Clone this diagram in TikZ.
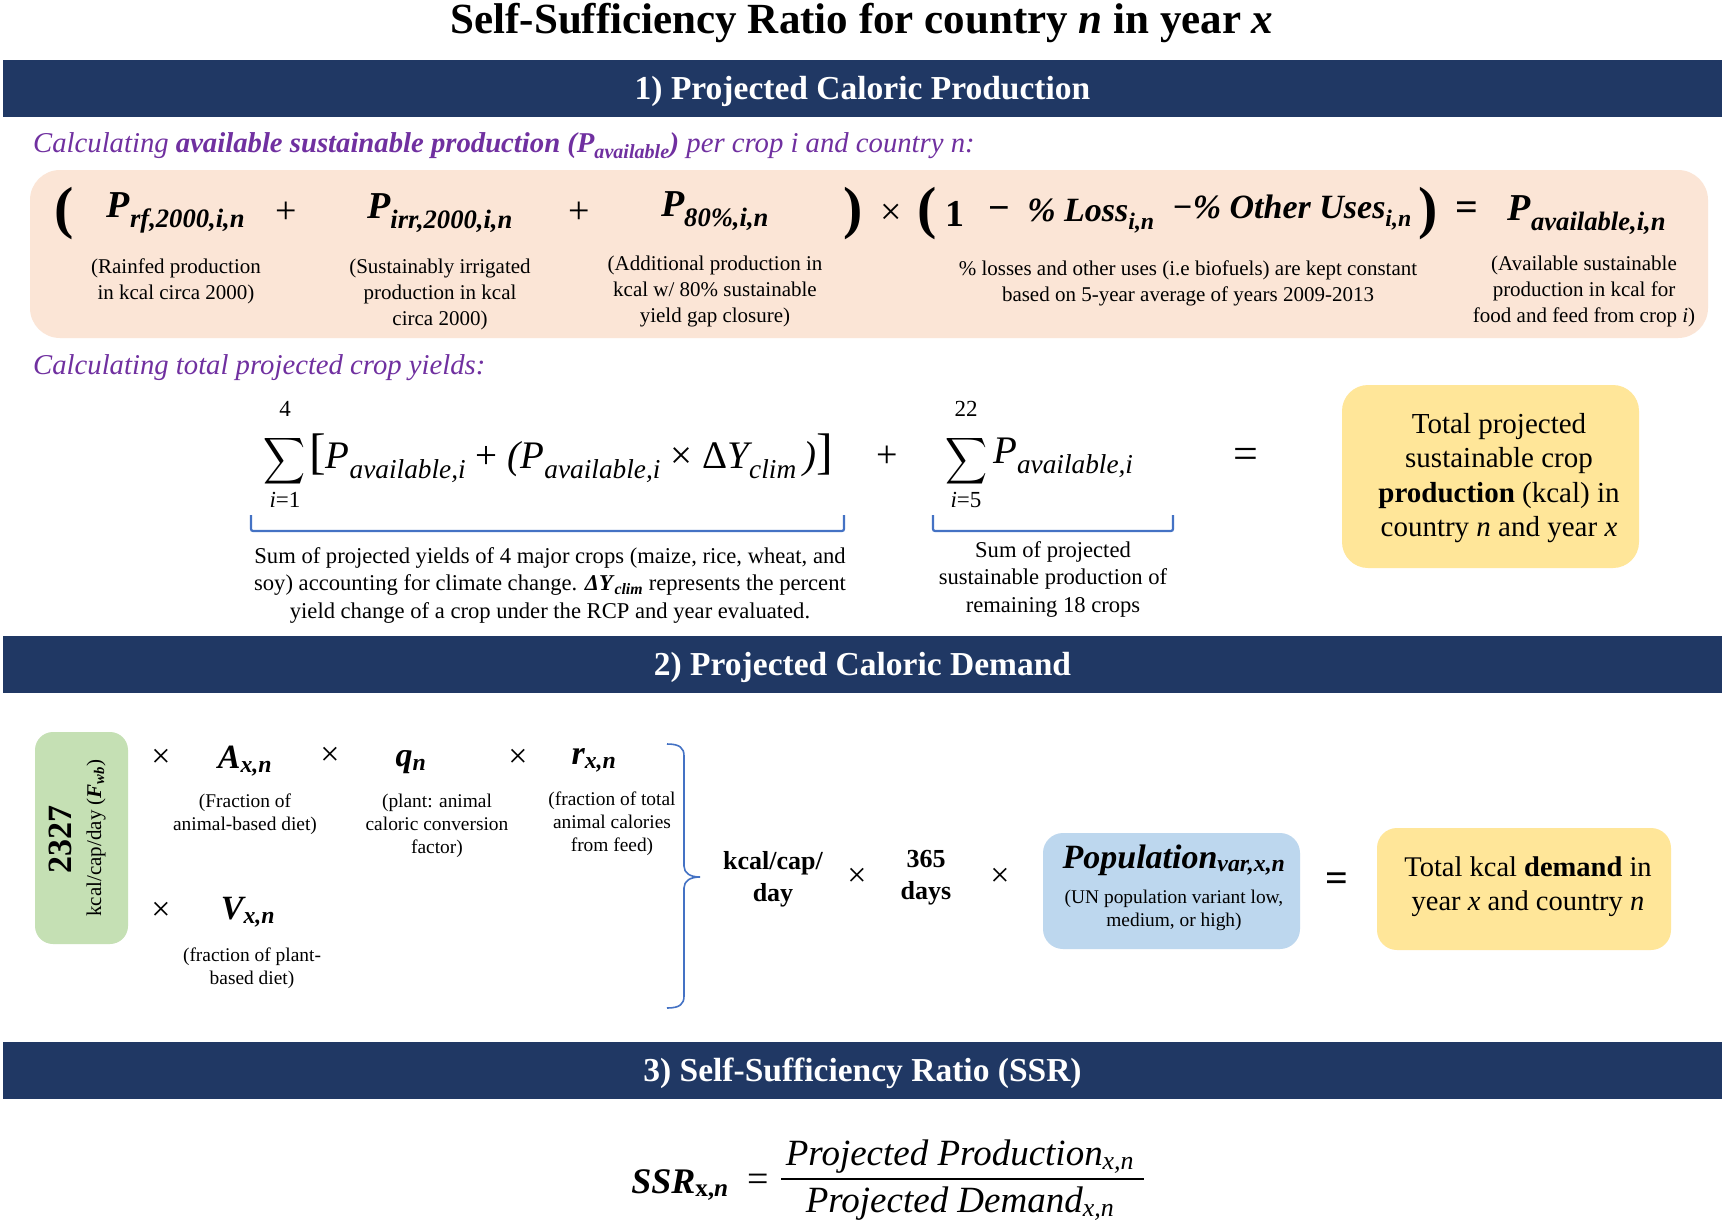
\documentclass[tikz,border=0pt]{standalone}
\usepackage{amsmath}
\usepackage{fontspec}
\setmainfont{Liberation Serif}
\definecolor{navy}{HTML}{203864}
\definecolor{pinkc}{HTML}{FBE5D6}
\definecolor{purplec}{HTML}{7030A0}
\definecolor{yellowc}{HTML}{FFE699}
\definecolor{greenc}{HTML}{C5E0B4}
\definecolor{bluebox}{HTML}{BDD7EE}
\definecolor{bracec}{HTML}{4472C4}
\newcommand\fsz[2]{\fontsize{#1}{#2}\selectfont}
\newcommand\bi{\bfseries\itshape}
\newcommand\bigsig{\resizebox*{42pt}{52pt}{$\displaystyle\sum$}}
\newcommand\sqb[1]{{\fsz{50}{50}\upshape #1}}
\begin{document}
\begin{tikzpicture}[x=1pt,y=-1pt,
  txt/.style={inner sep=0pt,align=center},
  desc/.style={txt,font=\fsz{21}{26}},
  tdesc/.style={txt,font=\fsz{22.6}{27.5}},
  sdesc/.style={txt,font=\fsz{19.4}{23}},
  banner/.style={fill=navy,draw=none,inner sep=0pt,minimum width=1719pt,minimum height=57pt,text=white,text height=22pt,text depth=0pt,font=\fsz{33.5}{38}\bfseries},
  calc/.style={txt,anchor=west,text=purplec,font=\fsz{28.7}{32}\itshape},
  bigvar/.style={txt,font=\fsz{38}{44}\bi},
  midvar/.style={txt,font=\fsz{34}{40}\bi},
  paren/.style={txt,font=\fsz{58}{60}\bfseries},
  op/.style={txt,font=\fsz{38}{40}},
  dvar/.style={txt,font=\fsz{34}{40}\bi},
  dop/.style={txt,font=\fsz{34}{36}},
  sumexp/.style={txt,font=\fsz{39}{42}\itshape},
  lim/.style={txt,font=\fsz{23}{26}},
  ubr/.style={draw=bracec,line width=2.2pt,rounded corners=2pt},
  rbox/.style={inner sep=0pt,rounded corners=26pt,draw=none},
  boxtext/.style={txt,font=\fsz{29}{34.5}},
  boxtextb/.style={txt,font=\fsz{28.5}{34}}
]
\useasboundingbox (0,0) rectangle (1725,1227);
\fill[white] (0,0) rectangle (1725,1227);

% title
\node[txt,font=\fsz{43}{48}\bfseries] (title) at (862,23) {Self-Sufficiency Ratio for country \textit{n} in year \textit{x}};

% section 1
\node[banner] (b1) at (862.5,88.5) {1) Projected Caloric Production};
\node[calc] (c1) at (33,146) {Calculating \textbf{available sustainable production (P\textsubscript{available})} per crop i and country n:};

\node[rbox,fill=pinkc,rounded corners=30pt,minimum width=1678pt,minimum height=168pt] (pink) at (869,254) {};

\node[paren] (lp1) at (64,214) {(};
\node[bigvar] (prf) at (176,213) {P\textsubscript{rf,2000,i,n}};
\node[op] (plus1) at (286,213) {+};
\node[bigvar] (pirr) at (440,213) {P\textsubscript{irr,2000,i,n}};
\node[op] (plus2) at (579,213) {+};
\node[bigvar] (p80) at (715,211) {P\textsubscript{80\%,i,n}};
\node[paren] (rp1) at (853,214) {)};
\node[op] (times1) at (891,214) {×};
\node[paren] (lp2) at (927,214) {(};
\node[txt,font=\fsz{38}{44}\bfseries] (one) at (955,214) {1};
\node[txt,font=\fsz{38}{44}\bfseries] (minus1) at (999,214) {−};
\node[midvar] (loss) at (1091,216) {\% Loss\textsubscript{i,n}};
\node[midvar] (other) at (1292,213) {−\% Other Uses\textsubscript{i,n}};
\node[paren] (rp2) at (1428,214) {)};
\node[txt,font=\fsz{40}{44}\bfseries] (eq1) at (1467,211) {=};
\node[bigvar] (pav) at (1587,215) {P\textsubscript{available,i,n}};

\node[desc] (d1) at (176,281) {(Rainfed production\\in kcal circa 2000)};
\node[desc] (d2) at (440,294) {(Sustainably irrigated\\production in kcal\\circa 2000)};
\node[desc] (d3) at (715,291) {(Additional production in\\kcal w/ 80\% sustainable\\yield gap closure)};
\node[desc] (d4) at (1188,283) {\% losses and other uses (i.e biofuels) are kept constant\\based on 5-year average of years 2009-2013};
\node[desc] (d5) at (1584,291) {(Available sustainable\\production in kcal for\\food and feed from crop \textit{i})};

\node[calc] (c2) at (33,368) {Calculating total projected crop yields:};

% sum 1
\node[txt] (sig1) at (285,461) {\bigsig};
\node[lim] (up1) at (285,409) {4};
\node[lim] (lo1) at (285,500) {\textit{i}=1};
\node[sumexp,anchor=west] (e1) at (309,458) {\sqb{[}P\textsubscript{available,i} \upshape+ \itshape(P\textsubscript{available,i} \upshape× Δ\itshape Y\textsubscript{clim}\,)\sqb{]}};
\node[op] (plus3) at (887,457) {+};
% sum 2
\node[txt] (sig2) at (966,461) {\bigsig};
\node[lim] (up2) at (966,409) {22};
\node[lim] (lo2) at (966,500) {\textit{i}=5};
\node[sumexp,anchor=west] (e2) at (993,458) {P\textsubscript{available,i}};
\node[txt,font=\fsz{44}{48}] (eq2) at (1246,458) {=};

\node[rbox,fill=yellowc,minimum width=297pt,minimum height=183pt] (y1) at (1490.5,476.5) {};
\node[boxtext] (y1t) at (1499,478) {Total projected\\sustainable crop\\\textbf{production} (kcal) in\\country \textit{n} and year \textit{x}};

\coordinate (u1l) at (251,515);
\coordinate (u1r) at (844,515);
\coordinate (u2l) at (933,515);
\coordinate (u2r) at (1173,515);
\draw[ubr] (u1l) -- ++(0,16) -| (u1r);
\draw[ubr] (u2l) -- ++(0,16) -| (u2r);

\node[tdesc] (t1) at (550,585) {Sum of projected yields of 4 major crops (maize, rice, wheat, and\\soy) accounting for climate change. \textbf{\textit{ΔY}}\textsubscript{\textbf{\textit{clim}}} represents the percent\\yield change of a crop under the RCP and year evaluated.};
\node[tdesc] (t2) at (1053,579) {Sum of projected\\sustainable production of\\remaining 18 crops};

% section 2
\node[banner] (b2) at (862.5,664.5) {2) Projected Caloric Demand};

\node[rbox,fill=greenc,rounded corners=18pt,minimum width=93pt,minimum height=212pt] (green) at (81.5,838) {};
\node[txt,rotate=90,font=\fsz{34}{38}\bfseries] (g1) at (60,839) {2327};
\node[txt,rotate=90,font=\fsz{21}{24}] (g2) at (96,838) {kcal/cap/day (\textbf{\textit{F}}\textsubscript{\textbf{\textit{wb}}})};

\node[dop] (x1) at (161,758) {×};
\node[dvar] (A) at (245,761) {A\textsubscript{x,n}};
\node[dop] (x2) at (330,756) {×};
\node[dvar] (q) at (411,762) {q\textsubscript{n}};
\node[dop] (x3) at (518,758) {×};
\node[dvar] (r) at (594,760) {r\textsubscript{x,n}};
\node[sdesc] (dA) at (245,814) {(Fraction of\\animal-based diet)};
\node[sdesc] (dq) at (437,826) {(plant: animal\\caloric conversion\\factor)};
\node[sdesc] (dr) at (612,824) {(fraction of total\\animal calories\\from feed)};
\node[dop] (x4) at (161,911) {×};
\node[dvar] (V) at (248,912) {V\textsubscript{x,n}};
\node[sdesc] (dV) at (252,968) {(fraction of plant-\\based diet)};

\draw[bracec,line width=1.6pt] (667,744) .. controls (680,744) and (684,748) .. (684,756) -- (684,866) .. controls (684,873) and (690,877) .. (700,877) .. controls (690,877) and (684,881) .. (684,888) -- (684,996) .. controls (684,1004) and (680,1008) .. (667,1008);

\node[txt,font=\fsz{26}{32}\bfseries] (kcd) at (773,879) {kcal/cap/\\day};
\node[dop] (x5) at (857,877) {×};
\node[txt,font=\fsz{26}{32}\bfseries] (days) at (926,878) {365\\days};
\node[dop] (x6) at (1000,877) {×};

\node[rbox,fill=bluebox,rounded corners=20pt,minimum width=257pt,minimum height=116pt] (pop) at (1171.5,891) {};
\node[dvar] (popt) at (1174,860) {Population\textsubscript{var,x,n}};
\node[sdesc] (popd) at (1174,910) {(UN population variant low,\\medium, or high)};
\node[txt,font=\fsz{40}{44}\bfseries] (eq3) at (1337,882) {=};
\node[rbox,fill=yellowc,rounded corners=20pt,minimum width=294pt,minimum height=122pt] (y2) at (1524,889) {};
\node[boxtextb] (y2t) at (1528,887) {Total kcal \textbf{demand} in\\year \textit{x} and country \textit{n}};

% section 3
\node[banner] (b3) at (862.5,1070.5) {3) Self-Sufficiency Ratio (SSR)};

\node[txt,font=\fsz{36}{40}\bi] (ssr) at (680,1185) {SSR\textsubscript{\upshape x,\itshape n}};
\node[txt,font=\fsz{38}{40}] (eq4) at (758,1183) {=};
\node[txt,font=\fsz{37}{40}\itshape] (num) at (960,1157) {Projected Production\textsubscript{x,n}};
\node[txt,font=\fsz{37}{40}\itshape] (den) at (960,1204) {Projected Demand\textsubscript{x,n}};
\draw[line width=1.8pt] (781,1179) -- (1144,1179);
\end{tikzpicture}
\end{document}
